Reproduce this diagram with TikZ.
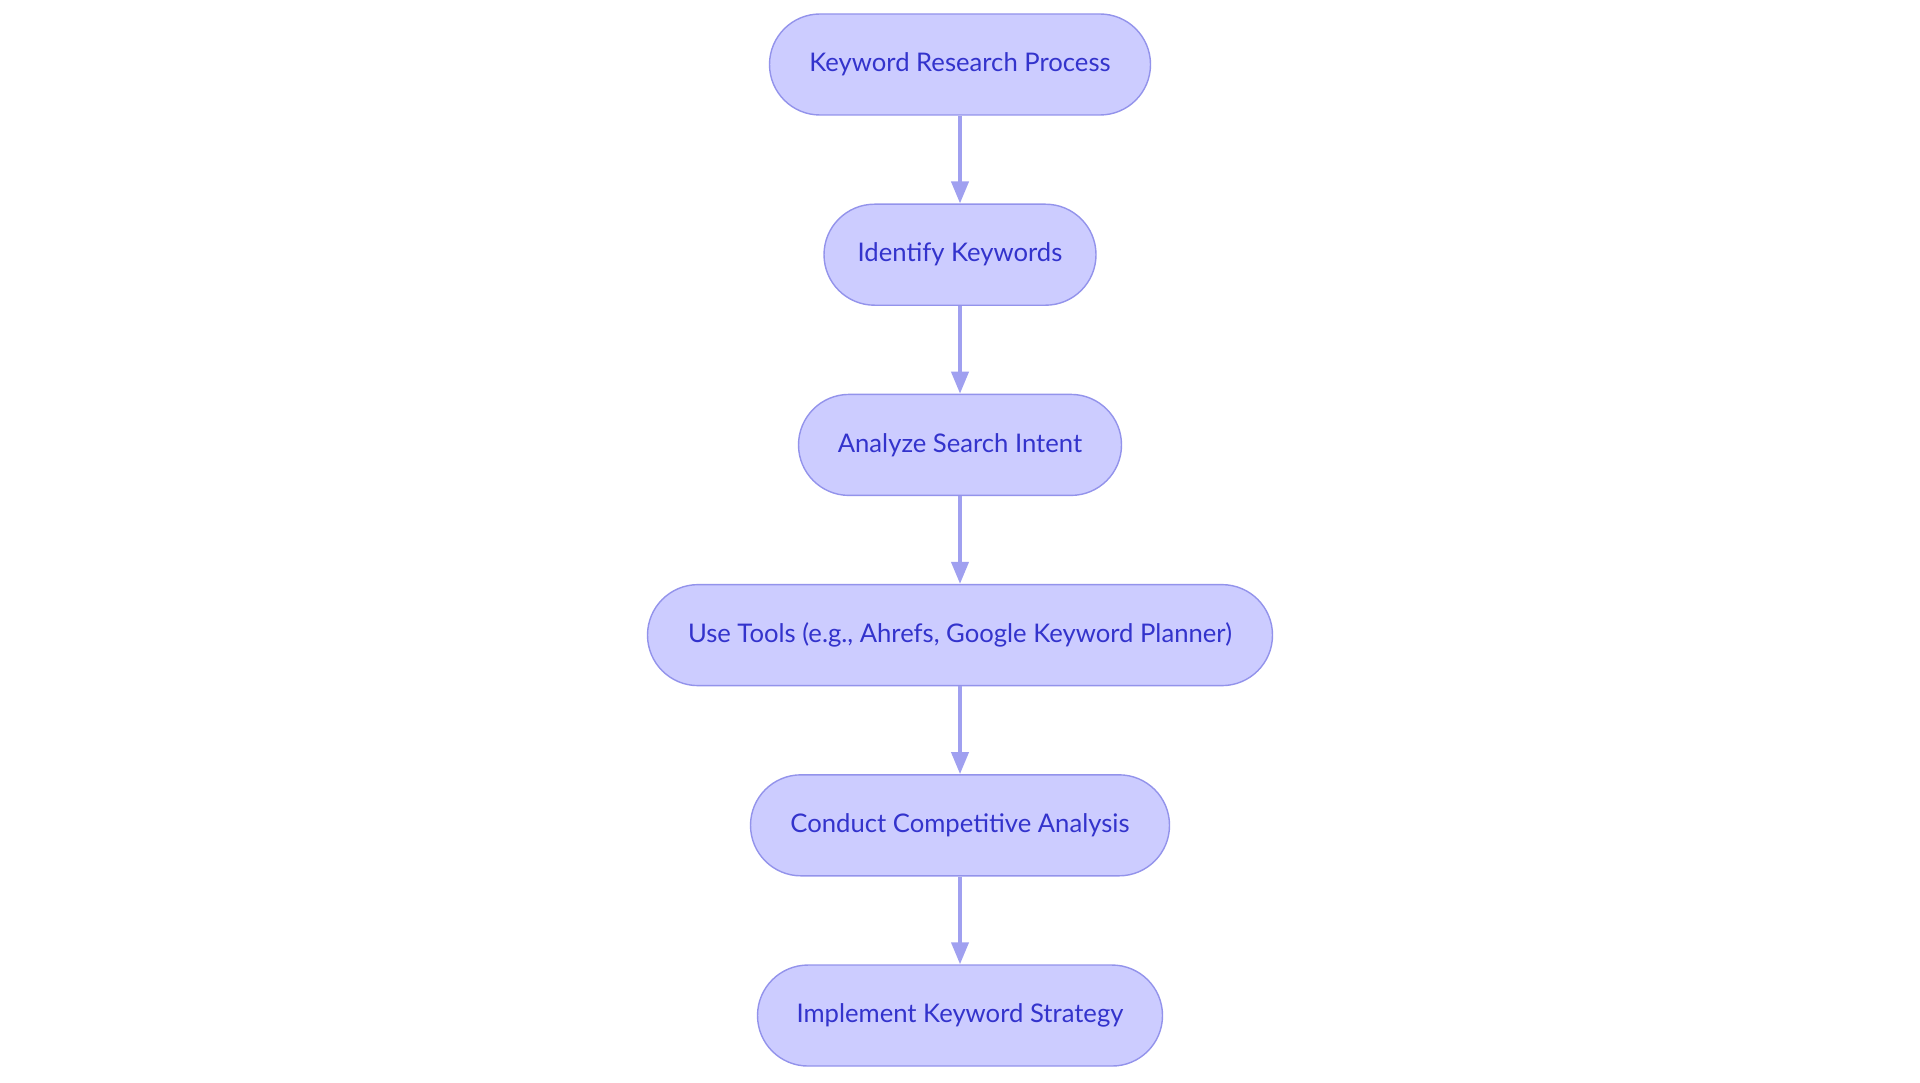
\documentclass[tikz,border=0pt]{standalone}
\usepackage{fontspec}
\setmainfont{Lato}
\usetikzlibrary{arrows.meta}
\usetikzlibrary{positioning}

\definecolor{stepfill}{RGB}{204,204,255}
\definecolor{stepline}{RGB}{147,147,235}
\definecolor{steptext}{RGB}{51,51,204}
\definecolor{flowline}{RGB}{160,160,240}

\begin{document}
\begin{tikzpicture}[>={Triangle[width=0.17cm,length=0.22cm]}, node distance=0.878cm,
  stepbox/.style={draw=stepline, fill=stepfill, text=steptext, line width=0.4pt,
    rounded corners=0.505cm, minimum height=1.01cm, inner sep=0pt,
    font=\fontsize{7.3}{9}\selectfont},
  flow/.style={draw=flowline, line width=1.1pt, ->}]
\useasboundingbox (0,0) rectangle (19.20,-10.83);
\node[stepbox, minimum width=3.81cm] (research) at (9.60,-0.645) {Keyword Research Process};
\node[stepbox, minimum width=2.72cm, below=of research] (identify) {Identify Keywords};
\node[stepbox, minimum width=3.23cm, below=of identify] (intent) {Analyze Search Intent};
\node[stepbox, minimum width=6.25cm, below=of intent] (tools) {Use Tools (e.g., Ahrefs, Google Keyword Planner)};
\node[stepbox, minimum width=4.19cm, below=of tools] (compete) {Conduct Competitive Analysis};
\node[stepbox, minimum width=4.05cm, below=of compete] (strategy) {Implement Keyword Strategy};
\path[flow] (research) -- (identify);
\path[flow] (identify) -- (intent);
\path[flow] (intent) -- (tools);
\path[flow] (tools) -- (compete);
\path[flow] (compete) -- (strategy);
\end{tikzpicture}
\end{document}
